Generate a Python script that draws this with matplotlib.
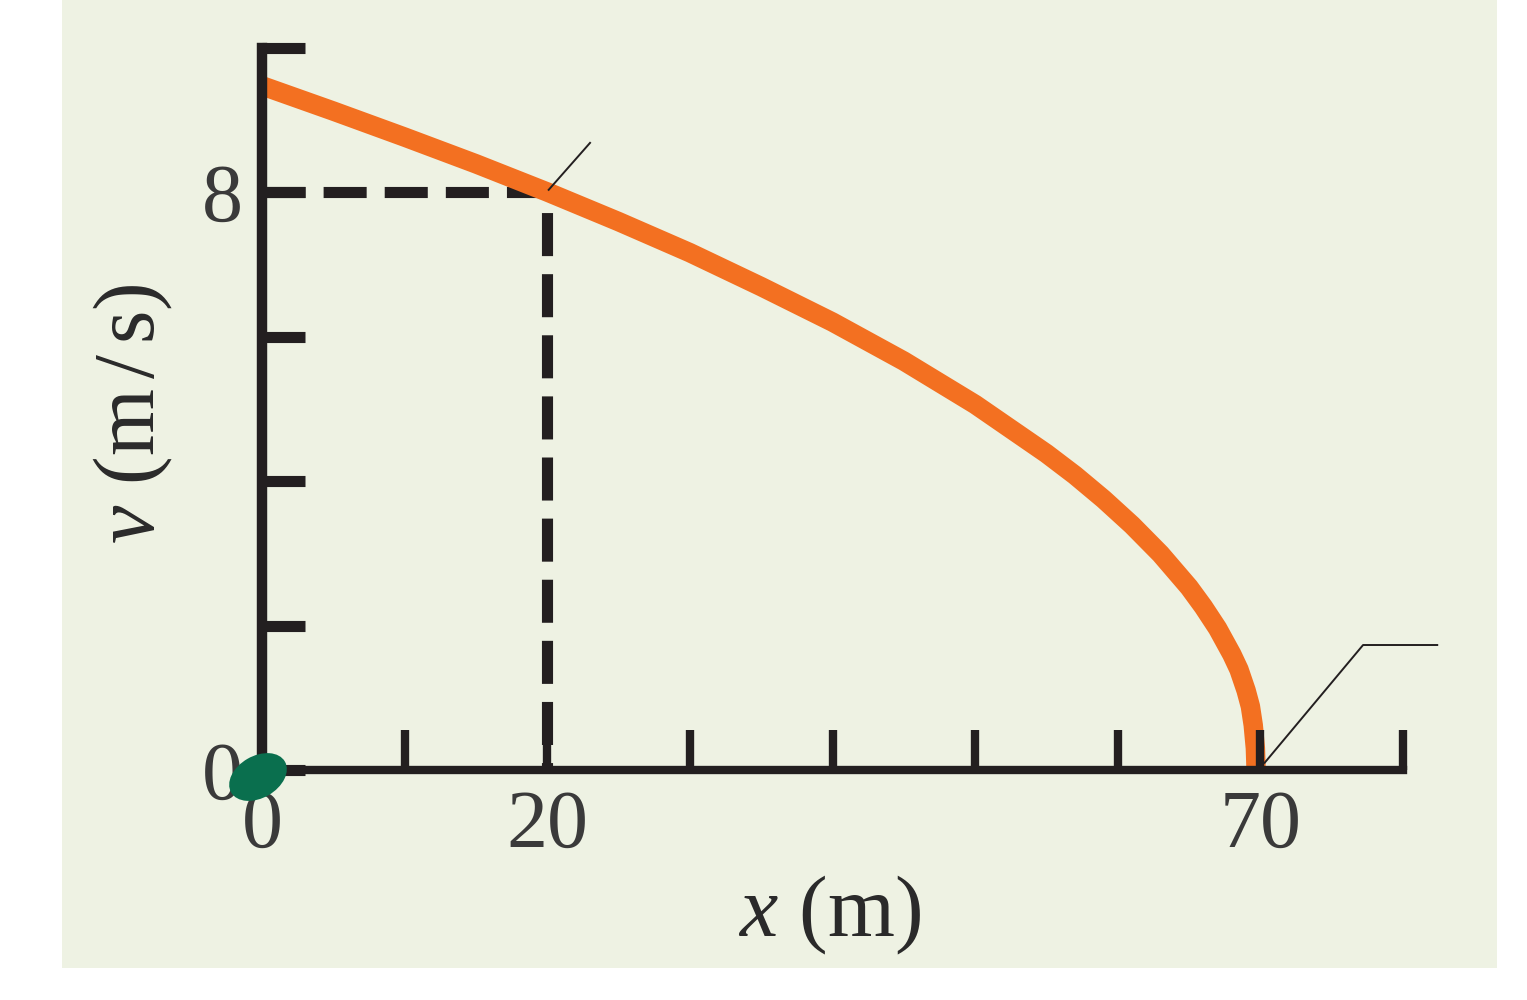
import matplotlib
matplotlib.use("Agg")
import matplotlib.pyplot as plt
from matplotlib.patches import Rectangle, Ellipse

# ---- data ----
x_m = [0, 5, 10, 15, 20, 25, 30, 35, 40, 45, 50, 55, 57, 59, 61, 63, 65, 66, 67, 68,
       68.5, 69.0, 69.3, 69.5, 69.65, 69.7]
v_ms = [9.47, 9.12, 8.76, 8.39, 8.0, 7.59, 7.16, 6.69, 6.20, 5.66, 5.06, 4.38, 4.08,
        3.75, 3.39, 2.99, 2.53, 2.26, 1.96, 1.60, 1.39, 1.10, 0.88, 0.62, 0.30, 0.0]
guide_x = [0, 20, 20]
guide_v = [8, 8, 0]
xticks = [0, 10, 20, 30, 40, 50, 60, 70, 80]
xticklabels = ["0", "", "20", "", "", "", "", "70", ""]
yticks = [0, 2, 4, 6, 8, 10]
yticklabels = ["0", "", "", "", "8", ""]
leader1_x = [20.1, 23.0]
leader1_v = [8.03, 8.68]
leader2_x = [70.3, 77.2, 82.4]
leader2_v = [0.1, 1.73, 1.73]

PANEL = "#EEF2E3"
ORANGE = "#F37021"
GREEN = "#0A6F4E"
INK = "#231F20"
TXT = "#3a3a3a"

plt.rcParams["font.family"] = ["Liberation Serif", "DejaVu Serif"]
plt.rcParams["mathtext.fontset"] = "custom"
plt.rcParams["mathtext.it"] = "Liberation Serif:italic"
plt.rcParams["mathtext.rm"] = "Liberation Serif"
plt.rcParams["lines.scale_dashes"] = False

fig = plt.figure(figsize=(15.27, 10.0), dpi=100, facecolor="white")
fig.patches.append(Rectangle((62 / 1527, 1 - 968 / 1000), (1497 - 62) / 1527, 968 / 1000,
                             transform=fig.transFigure, facecolor=PANEL, edgecolor="none",
                             zorder=-10))

ax = fig.add_axes([262 / 1527, 1 - 770 / 1000, (1403 - 262) / 1527, (770 - 47.5) / 1000])
ax.set_facecolor("none")
ax.set_xlim(0, 80)
ax.set_ylim(0, 10)

# dashed guides
ax.plot(guide_x, guide_v, color=INK, lw=8, linestyle=(0, (31, 13)),
        solid_capstyle="butt", dash_capstyle="butt", zorder=2, clip_on=False)
# curve
ax.plot(x_m, v_ms, color=ORANGE, lw=14, solid_capstyle="butt", solid_joinstyle="round",
        zorder=3, clip_on=False)
# leader lines
ax.plot(leader1_x, leader1_v, color=INK, lw=1.4, zorder=4, clip_on=False)
ax.plot(leader2_x, leader2_v, color=INK, lw=1.4, zorder=4, clip_on=False)

for s in ["top", "right"]:
    ax.spines[s].set_visible(False)
ax.spines["left"].set_linewidth(7.5)
ax.spines["bottom"].set_linewidth(6)
for s in ["left", "bottom"]:
    ax.spines[s].set_color(INK)
    ax.spines[s].set_capstyle("projecting")
    ax.spines[s].set_zorder(5)
ax.xaxis.set_zorder(6)
ax.yaxis.set_zorder(6)

ax.set_xticks(xticks)
ax.set_xticklabels(xticklabels)
ax.set_yticks(yticks)
ax.set_yticklabels(yticklabels)
ax.tick_params(axis="x", direction="in", length=29, width=6, color=INK, pad=14,
               labelsize=59, labelcolor=TXT)
ax.tick_params(axis="y", direction="in", length=31, width=8, color=INK, pad=14,
               labelsize=59, labelcolor=TXT)

# green blob at origin
ax.add_patch(Ellipse((2.58, 2.23), 0.62, 0.42, angle=30, transform=fig.dpi_scale_trans,
                     facecolor=GREEN, edgecolor="none", zorder=10, clip_on=False))

fig.text(830 / 1527, 1 - 915 / 1000, r"$x$ (m)", ha="center", va="center",
         fontsize=62, color="#2a2a2a")
fig.text(133 / 1527, 1 - 414 / 1000, r"$v$ (m$\,$/$\,$s)", ha="center", va="center",
         fontsize=62, color="#2a2a2a", rotation=90)

fig.savefig("out.png", dpi=100, facecolor="white")
